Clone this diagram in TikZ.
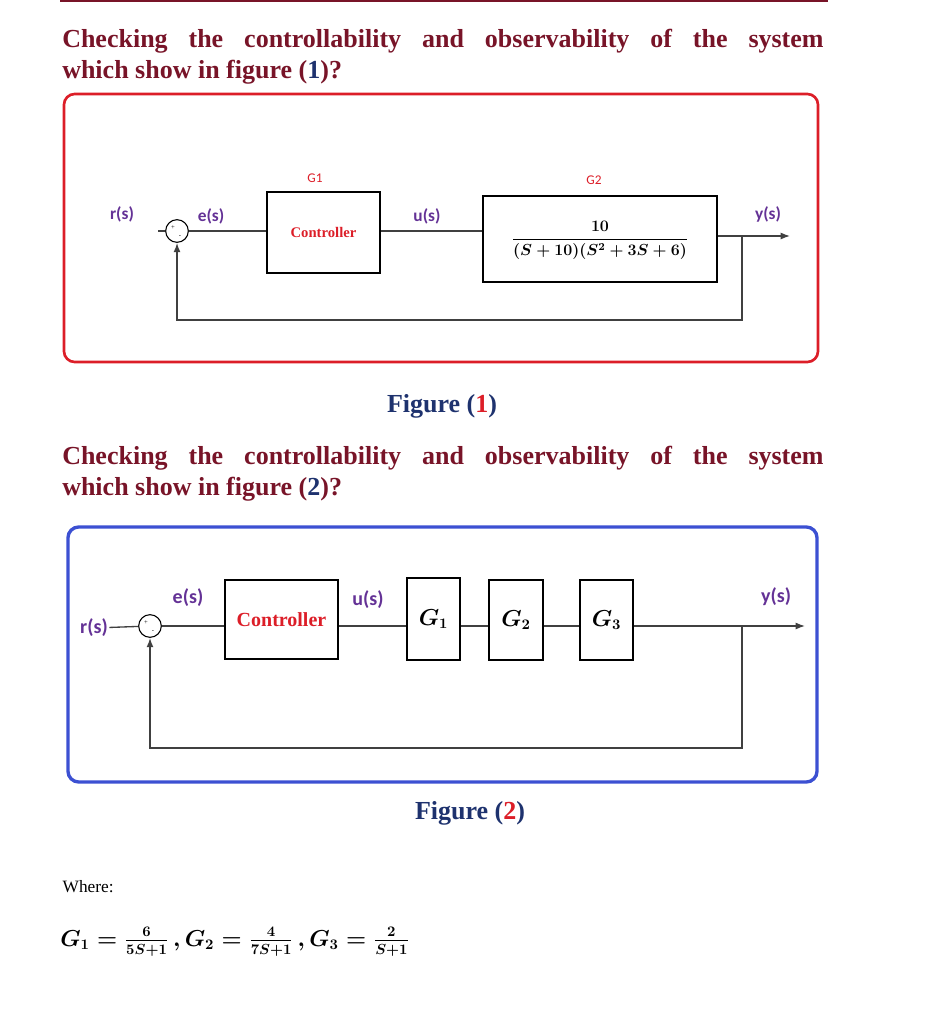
\documentclass[tikz,border=0pt]{standalone}
\usepackage{fontspec}
\usepackage{amsmath}
\setmainfont{Liberation Serif}
\newfontfamily\sig{Carlito}
\usetikzlibrary{arrows.meta}
\definecolor{ttl}{RGB}{120,20,40}
\definecolor{fgb}{RGB}{30,50,110}
\definecolor{redc}{RGB}{220,30,40}
\definecolor{bluec}{RGB}{60,80,210}
\definecolor{sigc}{RGB}{100,50,150}
\newcommand{\ttlline}{\hbox to 571pt{Checking\hfill the\hfill controllability\hfill and\hfill observability\hfill of\hfill the\hfill system}}
\begin{document}
\begin{tikzpicture}[x=0.75pt,y=-0.75pt,
  blk/.style={draw,line width=1.5pt,inner sep=0pt},
  sig/.style={font=\sig\bfseries\fontsize{13}{13}\selectfont,text=sigc},
  sigb/.style={font=\sig\bfseries\fontsize{15}{15}\selectfont,text=sigc},
  sum/.style={draw,circle,minimum size=17pt,inner sep=0pt,line width=0.8pt},
  wire/.style={line width=1pt,draw=black!75},
  ttlf/.style={font=\bfseries\fontsize{19.5}{22}\selectfont,text=ttl,anchor=west,inner sep=0pt}]
\useasboundingbox (0,0) rectangle (939,1024);
\draw[ttl,line width=1.5pt] (60,1) -- (828,1);
\node[ttlf] (t1) at (62,41) {\ttlline};
\node[ttlf] (t2) at (62,72) {which show in figure ({\color{fgb}1})?};
% Figure 1
\draw[redc,line width=2pt,rounded corners=8pt] (64,94) rectangle (818,362);
\node[sum] (s1) at (177,231) {};
\node[font=\tiny] at (173,228) {+};
\node[font=\tiny] at (180,237) {-};
\coordinate (r1) at (158,231);
\node[sig] at (122,214) {r(s)};
\node[sig] at (211,216) {e(s)};
\node[blk,minimum width=85pt,minimum height=61pt] (c1) at (323.5,232.5) {};
\node[font=\bfseries\fontsize{11}{11}\selectfont,text=redc] at (c1) {Controller};
\node[font=\sig\fontsize{10}{10}\selectfont,text=redc] at (315,178) {G1};
\node[sig] at (427,216) {u(s)};
\node[blk,minimum width=175pt,minimum height=64pt] (g2) at (600,239) {};
\node[font=\fontsize{11.5}{13}\selectfont] at (600,240) {$\boldsymbol{\dfrac{10}{(S+10)(S^2+3S+6)}}$};
\node[font=\sig\fontsize{10}{10}\selectfont,text=redc] at (594,180) {G2};
\node[sig] at (768,214) {y(s)};
\coordinate (o1) at (790,236);
\coordinate (b1) at (742,236);
\draw[wire] (r1) -- (s1);
\draw[wire] (s1) -- (c1.west|-s1);
\draw[wire] (c1.east|-s1) -- (g2.west|-s1);
\draw[wire,-{Latex[length=7pt]}] (g2.east|-o1) -- (o1);
\draw[wire,-{Latex[length=7pt]}] (b1) -- (742,320) -- (177,320) -- (s1.south);
\node[font=\bfseries\fontsize{19.5}{22}\selectfont,text=fgb] at (442,406) {Figure ({\color{redc}1})};
% Figure 2
\node[ttlf] (t3) at (62,458) {\ttlline};
\node[ttlf] (t4) at (62,489) {which show in figure ({\color{fgb}2})?};
\draw[bluec,line width=2.5pt,rounded corners=8pt] (68,527) rectangle (817,782);
\node[sum] (s2) at (150,626) {};
\node[font=\tiny] at (146,623) {+};
\node[font=\tiny] at (153,632) {-};
\node[sigb,inner sep=1pt] (r2) at (94,628) {r(s)};
\node[sigb] at (188,598) {e(s)};
\node[blk,minimum width=85pt,minimum height=59pt] (c2) at (281.5,619.5) {};
\node[font=\bfseries\fontsize{15}{15}\selectfont,text=redc] at (c2) {Controller};
\node[sigb] at (368,600) {u(s)};
\node[blk,minimum width=40pt,minimum height=61pt,font=\fontsize{16}{16}\selectfont] (g21) at (433.5,619) {$\boldsymbol{G_1}$};
\node[blk,minimum width=40pt,minimum height=60pt,font=\fontsize{16}{16}\selectfont] (g22) at (516,620) {$\boldsymbol{G_2}$};
\node[blk,minimum width=40pt,minimum height=60pt,font=\fontsize{16}{16}\selectfont] (g23) at (606.5,620) {$\boldsymbol{G_3}$};
\node[sigb] at (776,597) {y(s)};
\coordinate (o2) at (805,626);
\coordinate (b2) at (742,626);
\draw[wire] (r2) -- (s2);
\draw[wire] (s2) -- (c2.west|-s2);
\draw[wire] (c2.east|-s2) -- (g21.west|-s2);
\draw[wire] (g21.east|-s2) -- (g22.west|-s2);
\draw[wire] (g22.east|-s2) -- (g23.west|-s2);
\draw[wire,-{Latex[length=7pt]}] (g23.east|-o2) -- (o2);
\draw[wire,-{Latex[length=7pt]}] (b2) -- (742,748) -- (150,748) -- (s2.south);
\node[font=\bfseries\fontsize{19.5}{22}\selectfont,text=fgb] at (470,813) {Figure ({\color{redc}2})};
\node[font=\fontsize{13}{15}\selectfont,anchor=west] at (58,887) {Where:};
\node[anchor=west,inner sep=0pt] at (60,942) {\fontsize{16}{18}\selectfont$\boldsymbol{G_1=\frac{6}{5S+1}\,,G_2=\frac{4}{7S+1}\,,G_3=\frac{2}{S+1}}$};
\end{tikzpicture}
\end{document}
